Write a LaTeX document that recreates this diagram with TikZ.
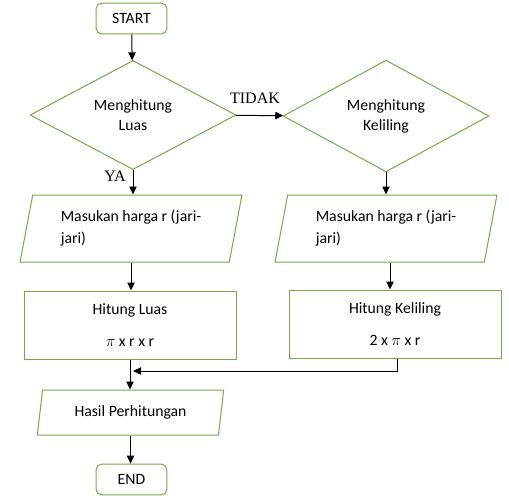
\documentclass[tikz,border=0pt]{standalone}
\usepackage{fontspec}
\setmainfont{Carlito}
\newfontfamily\labelfont{Liberation Serif}
\usetikzlibrary{shapes.geometric,arrows.meta}
\definecolor{boxgreen}{RGB}{112,173,71}

\begin{document}
\begin{tikzpicture}[x=0.75pt,y=-0.75pt,
   font=\fontsize{11.8}{15}\selectfont,
   box/.style={draw=boxgreen,line width=0.75pt},
   terminal/.style={box,rounded corners=4pt,minimum width=53pt,minimum height=23pt},
   decision/.style={box,diamond,minimum width=154.5pt,minimum height=74.25pt,inner sep=0pt,align=center},
   io/.style={box,trapezium,trapezium left angle=76,trapezium right angle=104,
      trapezium stretches=true,minimum width=166.5pt,minimum height=50.25pt,inner sep=0pt},
   process/.style={box,rectangle,minimum width=159pt,minimum height=51pt,align=center},
   flow/.style={-{Triangle[length=6pt,width=5.5pt]},line width=0.75pt},
   answer/.style={font=\labelfont\fontsize{12}{14}\selectfont}]
   \useasboundingbox (0,0) rectangle (509,501);
   \def\colL{131} \def\colR{386}
   \node[terminal] (start) at (131.5,18.5) {START};
   \node[decision] (luas) at (133,115) {Menghitung\\Luas};
   \node[decision] (keliling) at (\colR,116) {Menghitung\\Keliling};
   \node[io,align=left,font=\fontsize{11.8}{16.5}\selectfont] (input1) at (\colL,228.5) {Masukan harga r (jari-\\jari)};
   \node[io,align=left,font=\fontsize{11.8}{16.5}\selectfont] (input2) at (\colR,228.5) {Masukan harga r (jari-\\jari)};
   \node[process] (hitungluas) at (130,325) {Hitung Luas\\[9pt]$\pi$ x r x r};
   \node[process] (hitungkel) at (395,324) {Hitung Keliling\\[9pt]2 x $\pi$ x r};
   \node[io,trapezium left angle=76.3,trapezium right angle=103.7,
      minimum width=140.25pt,minimum height=33.75pt] (hasil) at (130.5,412.5) {Hasil Perhitungan};
   \node[terminal] (end) at (131.5,479.5) {END};
   \node[answer] (tidak) at (255,98) {TIDAK};
   \node[answer] (ya) at (115,176) {YA};
   \coordinate (merge) at (133,371);
   \draw[flow] (start) -- (luas);
   \draw[flow] (luas) -- (keliling);
   \draw[flow] (luas.south) -- (luas.south |- input1.north);
   \draw[flow] (keliling.south) -- (keliling.south |- input2.north);
   \draw[flow] (input1.south) -- (input1.south |- hitungluas.north);
   \draw[flow] ([xshift=3pt]input2.south) -- ([xshift=3pt]input2.south |- hitungkel.north);
   \draw[flow] (hitungluas.south) -- (hitungluas.south |- hasil.north);
   \draw[flow] ([xshift=1.5pt]hitungkel.south) |- (merge);
   \draw[flow] (hasil.south) -- (hasil.south |- end.north);
\end{tikzpicture}
\end{document}
